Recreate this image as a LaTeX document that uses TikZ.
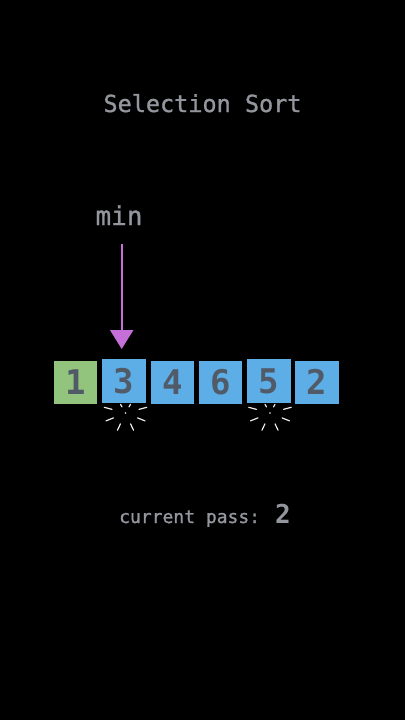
\documentclass[tikz,border=0pt]{standalone}
\usepackage{fontspec}
\setmonofont{DejaVu Sans Mono}
\newfontfamily\medmono[FakeBold=1.2]{DejaVu Sans Mono}
\usetikzlibrary{arrows.meta}
\definecolor{bgc}{HTML}{000000}
\definecolor{txtgray}{HTML}{94969D}
\definecolor{boxblue}{HTML}{5DADE6}
\definecolor{boxgreen}{HTML}{93C47D}
\definecolor{digitgray}{HTML}{515B68}
\definecolor{arrowviolet}{HTML}{C56FD8}
\tikzset{
  cell/.style={draw=none, fill=boxblue, minimum width=43.5pt, minimum height=43.5pt, inner sep=0pt,
     font=\ttfamily\bfseries\fontsize{34}{34}\selectfont, text=digitgray},
  donecell/.style={cell, fill=boxgreen},
  label/.style={text=txtgray, inner sep=0pt, anchor=base},
  ray/.style={draw=white!85!gray, line width=1.2pt, line cap=round},
  pics/burst/.style={code={
    \foreach \a/\r/\R in {-15/14/22, 22/13/21, 65/12/19, 115/12/19, 158/13/21, 195/14/22, 240/7/10, 300/7/10}
      \draw[ray] (\a:\r) -- (\a:\R);
    \fill[white!85!gray] (0,0) circle (0.8pt);
  }}
}
\begin{document}
\begin{tikzpicture}[x=1pt,y=-1pt]
\fill[bgc] (0,0) rectangle (405,720);
\useasboundingbox (0,0) rectangle (405,720);

\node[label, font=\medmono\fontsize{23.5}{23.5}\selectfont] (title) at (202.5,112) {Selection Sort};

\node[label, font=\medmono\fontsize{26}{26}\selectfont] (minlbl) at (119,225) {min};

\node[donecell] (c1) at (75.7,382.3) {1};
\node[cell] (c2) at (124.2,381) {3};
\node[cell] (c3) at (172.3,382.3) {4};
\node[cell] (c4) at (220.5,382.3) {6};
\node[cell] (c5) at (269,381) {5};
\node[cell] (c6) at (317.2,382.3) {2};

\coordinate (arrstart) at (121.7,244);
\coordinate (arrend) at (121.7,349);
\draw[arrowviolet, line width=2pt, -{Triangle[width=23pt,length=19pt]}] (arrstart) -- (arrend);

\pic at (125.5,413) {burst};
\pic at (270,413) {burst};

\node[label, anchor=base west, font=\medmono\fontsize{18}{18}\selectfont] (passlbl) at (119,523) {current pass:};
\node[label, anchor=base west, font=\ttfamily\bfseries\fontsize{26}{26}\selectfont] (passnum) at (275,523) {2};
\end{tikzpicture}
\end{document}
